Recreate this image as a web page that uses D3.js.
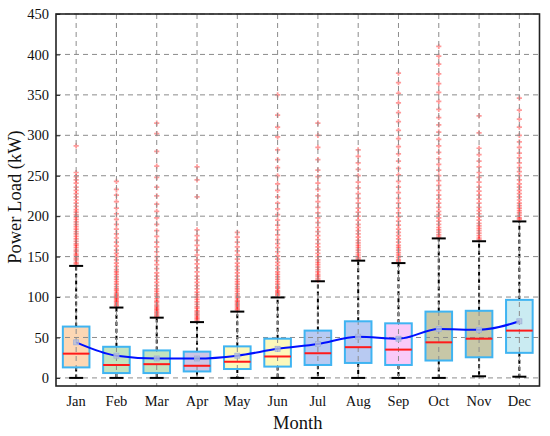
<!DOCTYPE html>
<html>
<head>
<meta charset="utf-8">
<script src="https://cdn.jsdelivr.net/npm/d3@7"></script>
<style>
  body { margin: 0; background: #fff; }
  text { font-family: "Palatino Linotype", "Book Antiqua", Palatino, "Liberation Serif", serif; }
</style>
</head>
<body>
<div id="chart"></div>
<script>
// Monthly power load box plots
const months = ["Jan", "Feb", "Mar", "Apr", "May", "Jun", "Jul", "Aug", "Sep", "Oct", "Nov", "Dec"];
const q1 = [13, 6, 6, 8, 11, 14, 16, 18.5, 16, 21.5, 25.5, 31];
const medians = [30, 16, 17, 15, 20, 26.5, 30.5, 38, 35, 44, 48.5, 58.5];
const q3 = [63.5, 38.5, 34, 32.5, 39, 48.5, 58.5, 70, 67.5, 82, 83, 96.5];
const means = [44, 27.5, 24, 24, 27.5, 36, 42, 51, 48.5, 60.5, 59.5, 70];
const whiskerLow = [0, 0, 0, 0, 0, 0, 0, 0, 0, 0, 2, 1.5];
const whiskerHigh = [138.5, 87, 74.5, 69, 82, 99.5, 119.5, 145, 142, 172.5, 169, 193.5];
const outliers = [
  [141,143,146,148,151,153,156,158,161,164,166,169,172,175,178,181,184,187,190,193,196,199,202,205,208,212,216,220,224,228,232,236,241,245,249,254,287],
  [89,91,93,95,97,99,101,103,105,108,110,113,116,119,122,125,128,131,134,138,142,146,150,154,158,163,168,173,178,184,190,196,203,210,218,226,233,243],
  [76,78,80,82,84,86,88,90,93,95,98,101,104,107,110,114,118,122,126,130,135,140,145,150,156,162,168,175,182,190,198,206,215,225,236,248,262,280,302,315],
  [71,73,75,77,79,81,83,86,88,91,94,97,100,103,106,110,114,118,122,126,131,136,141,146,152,158,164,170,176,183,224,245,261],
  [84,86,88,90,92,94,96,99,101,104,107,110,113,116,119,122,126,130,134,138,142,147,152,157,162,168,174,180],
  [102,104,106,108,111,113,116,119,122,125,128,131,135,139,143,147,151,156,161,166,171,177,183,189,195,202,209,216,224,232,240,250,260,270,282,298,310,325,350],
  [121,123,126,128,131,134,137,140,143,146,150,154,158,162,166,171,176,181,186,192,198,204,211,218,225,233,241,249,257,270,285,300,315],
  [147,149,152,155,158,161,164,167,170,174,178,182,186,190,195,200,205,210,216,222,228,235,242,250,258,266,274,282],
  [144,146,149,152,155,158,161,164,168,172,176,180,184,189,194,199,204,210,216,222,229,236,243,251,259,268,277,286,296,306,317,328,340,352,365,377],
  [174,177,180,183,186,190,194,198,202,206,211,216,221,226,232,238,244,250,257,264,271,279,287,295,304,313,322,332,342,353,364,376,388,398,410],
  [171,173,176,179,182,185,188,191,195,199,203,207,211,216,221,226,231,236,242,248,254,261,268,276,284,303,324],
  [196,198,201,204,207,210,213,216,220,224,228,232,236,240,245,250,255,260,266,272,278,285,292,300,310,320,331,346]
];
const boxColors = ["#fdd7b4", "#c3e3bf", "#c3e3bf", "#cdc6e6", "#fdf8bb", "#fdf8bb",
                   "#b8caf2", "#b8caf2", "#f9caf8", "#c7c7a7", "#c7c7a7", "#caebf2"];
const yTicks = [0, 50, 100, 150, 200, 250, 300, 350, 400, 450];

const width = 550, height = 436;
const margin = { top: 14, right: 10.5, bottom: 50, left: 56 };
const serif = "'Palatino Linotype', 'Book Antiqua', Palatino, 'Liberation Serif', serif";

const svg = d3.select("#chart").append("svg")
    .attr("width", width)
    .attr("height", height)
    .style("display", "block");

const x = d3.scaleBand().domain(months).range([margin.left, width - margin.right]).padding(0);
const y = d3.scaleLinear().domain([-10, 450]).range([height - margin.bottom, margin.top]);
const cx = m => x(m) + x.bandwidth() / 2;
const boxW = x.bandwidth() * 0.66;
const capW = 14;

const stats = months.map((m, i) => ({
    m, q1: q1[i], med: medians[i], q3: q3[i], mean: means[i],
    lo: whiskerLow[i], hi: whiskerHigh[i], out: outliers[i], color: boxColors[i]
}));

// Outliers
const outG = svg.append("g");
stats.forEach(d => {
    outG.selectAll(null)
        .data(d.out)
        .join("path")
        .attr("d", d3.symbol(d3.symbolCross, 15))
        .attr("transform", v => `translate(${cx(d.m)},${y(v)})`)
        .attr("fill", "#ff0000")
        .attr("fill-opacity", 0.4);
});

// Whiskers
const wG = svg.append("g");
wG.selectAll("line.up").data(stats).join("line")
    .attr("x1", d => cx(d.m)).attr("x2", d => cx(d.m))
    .attr("y1", d => y(d.q3)).attr("y2", d => y(d.hi))
    .attr("stroke", "#000").attr("stroke-width", 2).attr("stroke-dasharray", "4,3");
wG.selectAll("line.dn").data(stats).join("line")
    .attr("x1", d => cx(d.m)).attr("x2", d => cx(d.m))
    .attr("y1", d => y(d.q1)).attr("y2", d => y(d.lo))
    .attr("stroke", "#000").attr("stroke-width", 2).attr("stroke-dasharray", "4,3");

// Boxes
svg.append("g").selectAll("rect").data(stats).join("rect")
    .attr("x", d => cx(d.m) - boxW / 2)
    .attr("width", boxW)
    .attr("y", d => y(d.q3))
    .attr("height", d => y(d.q1) - y(d.q3))
    .attr("fill", d => d.color);

// Grid (drawn over box fills)
const grid = svg.append("g").attr("stroke", "#8c8c8c").attr("stroke-width", 1).attr("stroke-dasharray", "5,4");
grid.selectAll("line.h").data(yTicks).join("line")
    .attr("x1", margin.left).attr("x2", width - margin.right)
    .attr("y1", d => y(d)).attr("y2", d => y(d));
grid.selectAll("line.v").data(months).join("line")
    .attr("x1", d => cx(d)).attr("x2", d => cx(d))
    .attr("y1", margin.top).attr("y2", height - margin.bottom);

// Box outlines
svg.append("g").selectAll("rect").data(stats).join("rect")
    .attr("x", d => cx(d.m) - boxW / 2)
    .attr("width", boxW)
    .attr("y", d => y(d.q3))
    .attr("height", d => y(d.q1) - y(d.q3))
    .attr("fill", "none")
    .attr("stroke", "#3fb4f2")
    .attr("stroke-width", 2);

// Caps
const capG = svg.append("g").attr("stroke", "#000").attr("stroke-width", 2);
stats.forEach(d => {
    [d.lo, d.hi].forEach(v => {
        capG.append("line")
            .attr("x1", cx(d.m) - capW / 2).attr("x2", cx(d.m) + capW / 2)
            .attr("y1", y(v)).attr("y2", y(v));
    });
});

// Medians
svg.append("g").selectAll("line").data(stats).join("line")
    .attr("x1", d => cx(d.m) - boxW / 2).attr("x2", d => cx(d.m) + boxW / 2)
    .attr("y1", d => y(d.med)).attr("y2", d => y(d.med))
    .attr("stroke", "#ff1a1a").attr("stroke-width", 2);

// Mean line
const meanLine = d3.line().x(d => cx(d.m)).y(d => y(d.mean)).curve(d3.curveMonotoneX);
svg.append("path").datum(stats)
    .attr("d", meanLine)
    .attr("fill", "none")
    .attr("stroke", "#0010ff")
    .attr("stroke-width", 2);
svg.append("g").selectAll("rect").data(stats).join("rect")
    .attr("x", d => cx(d.m) - 2.5).attr("y", d => y(d.mean) - 2.5)
    .attr("width", 5).attr("height", 5)
    .attr("fill", "#b7c0dc").attr("fill-opacity", 0.8)
    .attr("stroke", "#9fb0d8").attr("stroke-width", 0.8);

// Axes
const yAxis = svg.append("g")
    .attr("transform", `translate(${margin.left},0)`)
    .call(d3.axisLeft(y).tickValues(yTicks).tickSize(-4).tickPadding(7));
const xAxis = svg.append("g")
    .attr("transform", `translate(0,${height - margin.bottom})`)
    .call(d3.axisBottom(x).tickSize(0).tickPadding(10));
[yAxis, xAxis].forEach(a => {
    a.attr("font-family", serif).attr("font-size", 14.5);
    a.select(".domain").remove();
    a.selectAll("text").attr("fill", "#111");
    a.selectAll("line").attr("stroke", "#222");
});

// Frame
svg.append("rect")
    .attr("x", margin.left).attr("y", margin.top)
    .attr("width", width - margin.left - margin.right)
    .attr("height", height - margin.top - margin.bottom)
    .attr("fill", "none").attr("stroke", "#222").attr("stroke-width", 1.6);

// Axis titles
svg.append("text")
    .attr("x", (margin.left + width - margin.right) / 2)
    .attr("y", 429)
    .attr("text-anchor", "middle")
    .style("font-size", "18.5px")
    .attr("fill", "#111")
    .text("Month");
svg.append("text")
    .attr("transform", `translate(21,197) rotate(-90)`)
    .attr("text-anchor", "middle")
    .style("font-size", "18.5px")
    .attr("fill", "#111")
    .text("Power Load (kW)");
</script>
</body>
</html>
